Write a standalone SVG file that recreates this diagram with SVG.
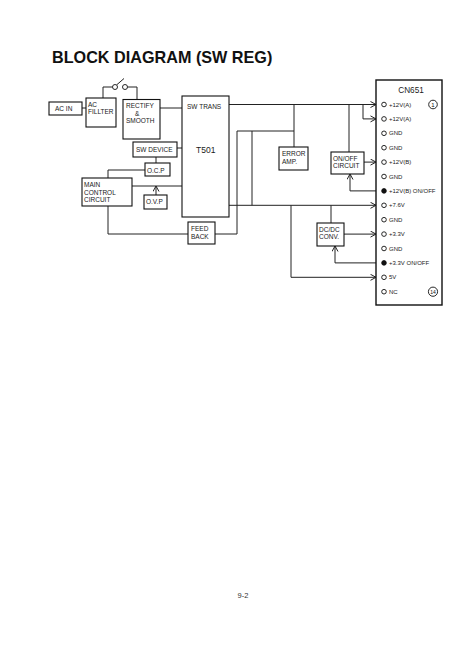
<svg xmlns="http://www.w3.org/2000/svg" width="474" height="670" viewBox="0 0 474 670">
<defs>
<style>
.bx{fill:#fff;stroke:#111;stroke-width:1.1}
.t{font-family:"Liberation Sans",Arial,sans-serif;font-size:6.5px;fill:#1a1a1a}
.p{font-family:"Liberation Sans",Arial,sans-serif;font-size:6px;fill:#1a1a1a}
.w{fill:none;stroke:#222;stroke-width:1}
.pin{fill:#fff;stroke:#111;stroke-width:0.9}
.pf{fill:#111;stroke:#111;stroke-width:0.9}
</style>
<marker id="ar" markerWidth="8" markerHeight="8" refX="6" refY="3.5" orient="auto" markerUnits="userSpaceOnUse">
<path d="M0.5,0.5 L6,3.5 L0.5,6.5" fill="none" stroke="#222" stroke-width="1"/>
</marker>
</defs>
<rect width="474" height="670" fill="#fff"/>
<text x="52" y="63" font-family="'Liberation Sans',Arial,sans-serif" font-size="16.2" font-weight="bold" fill="#111">BLOCK DIAGRAM (SW REG)</text>

<g id="connectors">
<path class="w" d="M82,108 H86"/>
<path class="w" d="M103,98 V87 H112.5"/>
<path class="w" d="M127.5,87 H137 V99.5"/>
<path class="w" d="M116.5,85 L124,78.5"/>
<circle cx="115" cy="87" r="2.5" class="pin"/>
<circle cx="125" cy="87" r="2.5" class="pin"/>
<path class="w" d="M160,108 H182"/>
<path class="w" d="M177,148 H182"/>
<path class="w" d="M156,157 V163"/>
<path class="w" d="M145,170 H108 V178"/>
<path class="w" d="M132,186 H182"/>
<path class="w" d="M156,195 V186" marker-end="url(#ar)"/>
<path class="w" d="M108,206 V234 H188"/>
<path class="w" d="M215,234 H237 V131 H294"/>
<path class="w" d="M252,131 V205.3"/>
<path class="w" d="M229,104.5 H376" marker-end="url(#ar)"/>
<path class="w" d="M363,104.5 V118.9 H376" marker-end="url(#ar)"/>
<path class="w" d="M294,104.5 V147"/>
<path class="w" d="M349,104.5 V152"/>
<path class="w" d="M364,162.1 H376" marker-end="url(#ar)"/>
<path class="w" d="M376,190.9 H350 V174" marker-end="url(#ar)"/>
<path class="w" d="M229,205.3 H376" marker-end="url(#ar)"/>
<path class="w" d="M291,205.3 V277.3 H376" marker-end="url(#ar)"/>
<path class="w" d="M331,205.3 V223"/>
<path class="w" d="M344,234.1 H376" marker-end="url(#ar)"/>
<path class="w" d="M376,262.9 H335 V246" marker-end="url(#ar)"/>
</g>

<g id="ac-in"><rect class="bx" x="49" y="102" width="33" height="13"/><text class="t" x="55" y="110.5">AC IN</text></g>
<g id="ac-filter"><rect class="bx" x="86" y="98" width="30" height="29"/><text class="t" x="88" y="107">AC</text><text class="t" x="88" y="114">FILLTER</text></g>
<g id="rectify"><rect class="bx" x="123" y="99.5" width="37" height="39.5"/><text class="t" x="126" y="108">RECTIFY</text><text class="t" x="135" y="115.5">&amp;</text><text class="t" x="126" y="123">SMOOTH</text></g>
<g id="t501"><rect class="bx" x="182" y="96" width="47" height="121"/><text class="t" x="187" y="109">SW TRANS</text><text x="196" y="153" font-family="'Liberation Sans',Arial,sans-serif" font-size="8.5" fill="#1a1a1a">T501</text></g>
<g id="sw-device"><rect class="bx" x="133" y="142" width="44" height="15"/><text class="t" x="136" y="151.5">SW DEVICE</text></g>
<g id="ocp"><rect class="bx" x="145" y="163" width="25" height="13"/><text class="t" x="147" y="172.5">O.C.P</text></g>
<g id="main-control"><rect class="bx" x="82" y="178" width="50" height="28"/><text class="t" x="84" y="187">MAIN</text><text class="t" x="84" y="194.5">CONTROL</text><text class="t" x="84" y="202">CIRCUIT</text></g>
<g id="ovp"><rect class="bx" x="144" y="195" width="23" height="14"/><text class="t" x="146" y="204">O.V.P</text></g>
<g id="feed-back"><rect class="bx" x="188" y="222" width="27" height="22"/><text class="t" x="191" y="231">FEED</text><text class="t" x="191" y="238.5">BACK</text></g>
<g id="error-amp"><rect class="bx" x="279" y="147" width="29" height="23"/><text class="t" x="282" y="156">ERROR</text><text class="t" x="282" y="163.5">AMP.</text></g>
<g id="onoff"><rect class="bx" x="331" y="152" width="33" height="22"/><text class="t" x="333" y="160.5">ON/OFF</text><text class="t" x="333" y="168">CIRCUIT</text></g>
<g id="dcdc"><rect class="bx" x="317" y="223" width="27" height="23"/><text class="t" x="319" y="231.5">DC/DC</text><text class="t" x="319" y="239">CONV.</text></g>

<g id="cn651">
<rect x="376" y="80" width="66" height="225" fill="#fff" stroke="#111" stroke-width="1.4"/>
<text x="411" y="93" text-anchor="middle" font-family="'Liberation Sans',Arial,sans-serif" font-size="8.2" fill="#1a1a1a">CN651</text>
<circle class="pin" cx="384" cy="104.5" r="2.3"/><text class="p" x="389" y="106.6">+12V(A)</text>
<circle class="pin" cx="384" cy="118.9" r="2.3"/><text class="p" x="389" y="121">+12V(A)</text>
<circle class="pin" cx="384" cy="133.3" r="2.3"/><text class="p" x="389" y="135.4">GND</text>
<circle class="pin" cx="384" cy="147.7" r="2.3"/><text class="p" x="389" y="149.8">GND</text>
<circle class="pin" cx="384" cy="162.1" r="2.3"/><text class="p" x="389" y="164.2">+12V(B)</text>
<circle class="pin" cx="384" cy="176.5" r="2.3"/><text class="p" x="389" y="178.6">GND</text>
<circle class="pf" cx="384" cy="190.9" r="2.3"/><text class="p" x="389" y="193">+12V(B) ON/OFF</text>
<circle class="pin" cx="384" cy="205.3" r="2.3"/><text class="p" x="389" y="207.4">+7.6V</text>
<circle class="pin" cx="384" cy="219.7" r="2.3"/><text class="p" x="389" y="221.8">GND</text>
<circle class="pin" cx="384" cy="234.1" r="2.3"/><text class="p" x="389" y="236.2">+3.3V</text>
<circle class="pin" cx="384" cy="248.5" r="2.3"/><text class="p" x="389" y="250.6">GND</text>
<circle class="pf" cx="384" cy="262.9" r="2.3"/><text class="p" x="389" y="265">+3.3V ON/OFF</text>
<circle class="pin" cx="384" cy="277.3" r="2.3"/><text class="p" x="389" y="279.4">5V</text>
<circle class="pin" cx="384" cy="291.7" r="2.3"/><text class="p" x="389" y="293.8">NC</text>
<circle cx="433" cy="104.5" r="4.3" fill="none" stroke="#111" stroke-width="0.9"/>
<text x="433" y="106.7" text-anchor="middle" font-family="'Liberation Sans',Arial,sans-serif" font-size="6" fill="#111">1</text>
<circle cx="433" cy="291.7" r="4.6" fill="none" stroke="#111" stroke-width="0.9"/>
<text x="433" y="293.6" text-anchor="middle" font-family="'Liberation Sans',Arial,sans-serif" font-size="5" fill="#111">14</text>
</g>

<text x="243" y="598" text-anchor="middle" font-family="'Liberation Sans',Arial,sans-serif" font-size="7.5" fill="#333">9-2</text>
</svg>
